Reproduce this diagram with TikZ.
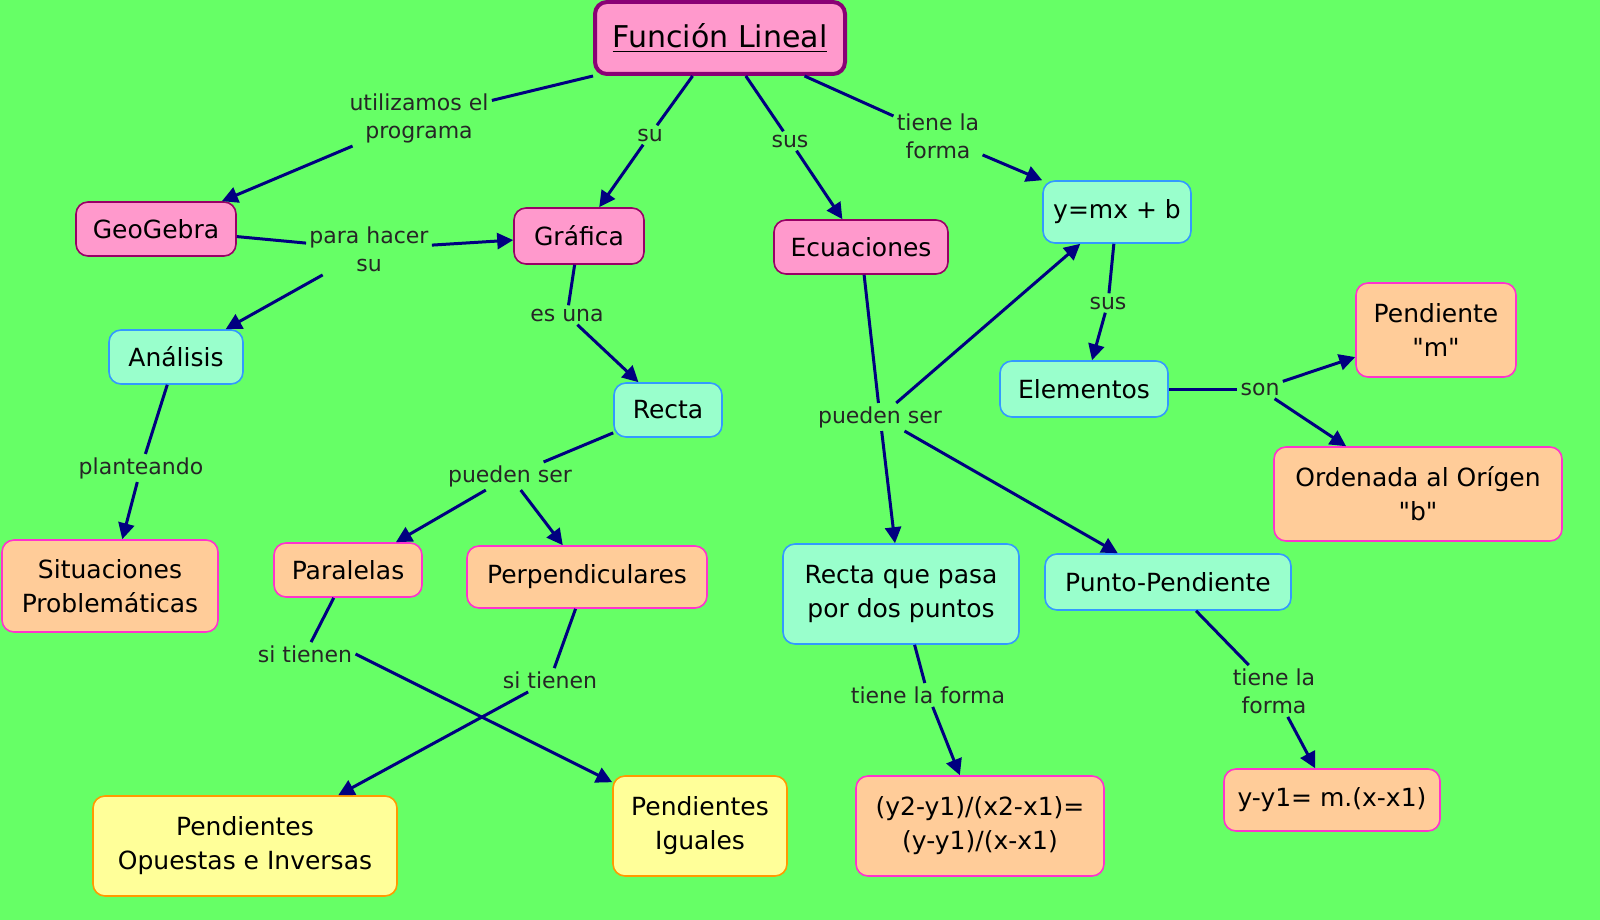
\documentclass[tikz,border=0pt]{standalone}
\usepackage{fontspec}
\setmainfont{DejaVu Sans}[Ligatures=TeXOff]
\usetikzlibrary{arrows.meta}
\definecolor{bg}{HTML}{66FF66}
\definecolor{pinkf}{HTML}{FF99CC}
\definecolor{pinkb}{HTML}{990066}
\definecolor{cyanf}{HTML}{99FFCC}
\definecolor{cyanb}{HTML}{3399FF}
\definecolor{orf}{HTML}{FFCC99}
\definecolor{orb}{HTML}{FF33CC}
\definecolor{yelf}{HTML}{FFFF99}
\definecolor{yelb}{HTML}{FF9900}
\definecolor{arr}{HTML}{000080}
\begin{document}
\begin{tikzpicture}[x=0.5pt,y=-0.5pt,
 box/.style={rounded corners=6pt,draw,line width=0.8pt,align=center,font=\fontsize{12.5}{17}\selectfont,inner sep=0pt},
 pk/.style={box,fill=pinkf,draw=pinkb},
 cy/.style={box,fill=cyanf,draw=cyanb},
 og/.style={box,fill=orf,draw=orb},
 ye/.style={box,fill=yelf,draw=yelb},
 lb/.style={align=center,font=\fontsize{11}{14}\selectfont,inner sep=1.5pt,text=black!85},
 ln/.style={draw=arr,line width=1.5pt},
 ar/.style={ln,-{Triangle[length=8pt,width=8pt]}}]
\fill[bg] (0,0) rectangle (1600,920);
\useasboundingbox (0,0) rectangle (1600,920);
\node[pk,minimum width=125pt,minimum height=36pt,line width=2pt,draw=pinkb!90!blue,font=\fontsize{15}{18}\selectfont] (FL) at (720,38) {\underline{Función Lineal}};
\node[pk,minimum width=80pt,minimum height=27pt] (geo) at (156,229) {GeoGebra};
\node[pk,minimum width=65pt,minimum height=28pt] (gra) at (579,236) {Gráfica};
\node[pk,minimum width=87pt,minimum height=27pt] (ecu) at (861,247) {Ecuaciones};
\node[cy,minimum width=74pt,minimum height=31pt] (ymx) at (1117,212) {y=mx + b};
\node[cy,minimum width=67pt,minimum height=27pt] (ana) at (176,357) {Análisis};
\node[cy,minimum width=54pt,minimum height=27pt] (rec) at (668,410) {Recta};
\node[cy,minimum width=84pt,minimum height=28pt] (ele) at (1084,389) {Elementos};
\node[og,minimum width=80pt,minimum height=47pt] (pm) at (1436,330) {Pendiente\\"m"};
\node[og,minimum width=144pt,minimum height=47pt] (ord) at (1418,494) {Ordenada al Orígen\\"b"};
\node[og,minimum width=108pt,minimum height=46pt] (sit) at (110,586) {Situaciones\\Problemáticas};
\node[og,minimum width=74pt,minimum height=27pt] (par) at (348,570) {Paralelas};
\node[og,minimum width=120pt,minimum height=31pt] (per) at (587,577) {Perpendiculares};
\node[cy,minimum width=118pt,minimum height=50pt] (rqp) at (901,594) {Recta que pasa\\por dos puntos};
\node[cy,minimum width=123pt,minimum height=28pt] (pp) at (1168,582) {Punto-Pendiente};
\node[ye,minimum width=152pt,minimum height=50pt] (po) at (245,846) {Pendientes\\Opuestas e Inversas};
\node[ye,minimum width=87pt,minimum height=50pt] (pi) at (700,826) {Pendientes\\Iguales};
\node[og,minimum width=124pt,minimum height=50pt] (f1) at (980,826) {(y2-y1)/(x2-x1)=\\(y-y1)/(x-x1)};
\node[og,minimum width=108pt,minimum height=31pt] (f2) at (1332,800) {y-y1= m.(x-x1)};
% labels
\node[lb] (l1) at (419,118) {utilizamos el\\programa};
\node[lb] (l2) at (650,135) {su};
\node[lb] (l3) at (790,141) {sus};
\node[lb] (l4) at (938,136) {tiene la\\forma};
\node[lb] (l5) at (369,249) {para hacer\\su};
\node[lb] (l6) at (567,315) {es una};
\node[lb] (l7) at (1108,303) {sus};
\node[lb] (l8) at (1260,389) {son};
\node[lb] (l9) at (141,468) {planteando};
\node[lb] (l10) at (510,476) {pueden ser};
\node[lb] (l11) at (880,417) {pueden ser};
\node[lb] (l12) at (305,654) {si tienen};
\node[lb] (l13) at (550,680) {si tienen};
\node[lb] (l14) at (928,695) {tiene la forma};
\node[lb] (l15) at (1274,691) {tiene la\\forma};
% connectors
\draw[ln] (FL.south west) -- (l1); \draw[ar] (l1) -- (geo);
\draw[ln] (FL) -- (l2); \draw[ar] (l2) -- (gra);
\draw[ln] (FL) -- (l3); \draw[ar] (l3) -- (ecu);
\draw[ln] (FL) -- (l4); \draw[ar] (l4) -- (ymx);
\draw[ln] (geo) -- (l5); \draw[ar] (l5) -- (gra); \draw[ar] (l5) -- (ana);
\draw[ln] (gra) -- (l6); \draw[ar] (l6) -- (rec);
\draw[ln] (ana) -- (l9); \draw[ar] (l9) -- (sit);
\draw[ln] (rec) -- (l10); \draw[ar] (l10) -- (par); \draw[ar] (l10) -- (per);
\draw[ln] (par) -- (l12); \draw[ar] (l12.east) -- (pi);
\draw[ln] (per) -- (l13); \draw[ar] (l13) -- (po);
\draw[ln] (ecu) -- (l11); \draw[ar] (l11) -- (rqp); \draw[ar] (l11) -- (pp); \draw[ar] (l11) -- (ymx);
\draw[ln] (ymx) -- (l7); \draw[ar] (l7) -- (ele);
\draw[ln] (ele) -- (l8); \draw[ar] (l8) -- (pm); \draw[ar] (l8) -- (ord);
\draw[ln] (rqp) -- (l14); \draw[ar] (l14) -- (f1);
\draw[ln] (pp) -- (l15); \draw[ar] (l15) -- (f2);
\end{tikzpicture}
\end{document}
